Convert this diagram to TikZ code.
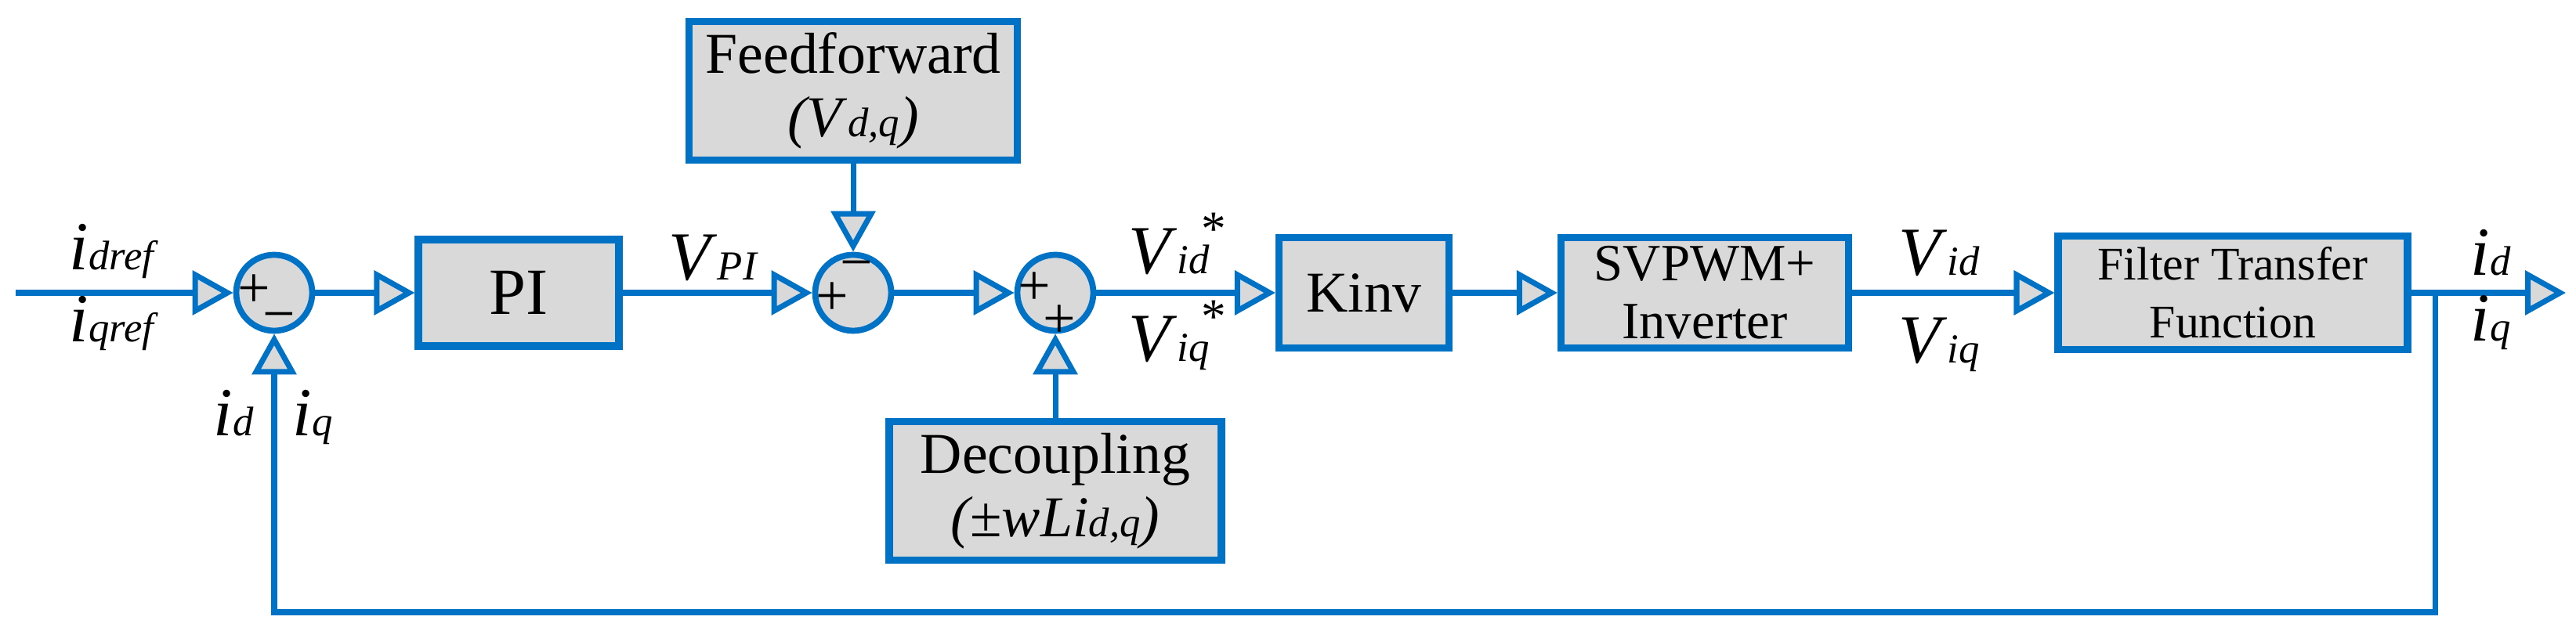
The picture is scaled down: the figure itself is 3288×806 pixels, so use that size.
\documentclass[tikz,border=0pt]{standalone}
\usepackage{fontspec}
\setmainfont{Liberation Serif}
\usetikzlibrary{arrows.meta}
\definecolor{lineblue}{RGB}{0,114,198}
\definecolor{boxgray}{RGB}{217,217,217}
\newcommand\vsig[2]{\textit{#1}{\fontsize{15}{15}\selectfont\textit{#2}}}
\newcommand\vstar{\kern-3pt\raisebox{10.5pt}{\fontsize{18}{18}\selectfont *}}

\tikzset{
  block/.style={draw=lineblue, line width=2.6pt, fill=boxgray, align=center, inner sep=0pt,
    font=\fontsize{21}{23}\selectfont},
  sum/.style={circle, draw=lineblue, line width=2.2pt, fill=boxgray,
    minimum size=0.97cm, inner sep=0pt},
  sig/.style={draw=lineblue, line width=2pt, line join=miter,
    -{Triangle[length=0.52cm, width=0.56cm, fill=boxgray]}},
  lbl/.style={anchor=base west, inner sep=0pt, font=\fontsize{25}{25}\selectfont},
  sgn/.style={inner sep=0pt, font=\fontsize{21}{21}\selectfont}
}

\begin{document}
\begin{tikzpicture}[x=0.1mm, y=-0.1mm]
  \useasboundingbox (0,0) rectangle (3288,806);

  % blocks and summing points
  \node[sum] (S1) at (350,374) {};
  \node[block, minimum width=2.56cm, minimum height=1.36cm, font=\fontsize{24}{24}\selectfont] (PI) at (662,374) {PI};
  \node[sum] (S2) at (1089,374) {};
  \node[block, minimum width=4.19cm, minimum height=1.77cm] (FF) at (1089,116) {Feedforward\\{\itshape(}\vsig{V}{d,q}{\itshape)}};
  \node[sum] (S3) at (1347,374) {};
  \node[block, minimum width=4.24cm, minimum height=1.77cm] (Dec) at (1347,627) {Decoupling\\{\itshape(}±\vsig{wLi}{d,q}{\itshape)}};
  \node[block, minimum width=2.17cm, minimum height=1.41cm] (K) at (1741,374) {Kinv};
  \node[block, minimum width=3.67cm, minimum height=1.41cm, font=\fontsize{19}{21}\selectfont] (SV) at (2176,374) {SVPWM+\\Inverter};
  \node[block, minimum width=4.46cm, minimum height=1.45cm, font=\fontsize{17}{21}\selectfont] (F) at (2850,374) {Filter Transfer\\Function};

  \coordinate (in) at (20,374);
  \coordinate (J) at (3108,374);
  \coordinate (out) at (3275,374);
  \coordinate (fb) at (3108,782);

  % signs
  \node[sgn] (S1a) at (324,372) {+};
  \node[sgn] (S1b) at (356,412) {−};
  \node[sgn] (S2a) at (1062,382) {+};
  \node[sgn] (S2b) at (1093,346) {−};
  \node[sgn] (S3a) at (1320,369) {+};
  \node[sgn] (S3b) at (1352,411) {+};

  % signals
  \draw (in) edge[sig] (S1);
  \draw (S1) edge[sig] (PI);
  \draw (PI) edge[sig] (S2);
  \draw (FF) edge[sig] (S2);
  \draw (S2) edge[sig] (S3);
  \draw (Dec) edge[sig] (S3);
  \draw (S3) edge[sig] (K);
  \draw (K) edge[sig] (SV);
  \draw (SV) edge[sig] (F);
  \draw (F) edge[sig] (out);
  \draw[sig] (J) -- (fb) -| (S1);

  % labels
  \node[lbl] (idref) at (88,345) {\vsig{i}{dref}};
  \node[lbl] (iqref) at (88,437) {\vsig{i}{qref}};
  \node[lbl] (idfb) at (272,557) {\vsig{i}{d}};
  \node[lbl] (iqfb) at (373,557) {\vsig{i}{q}};
  \node[lbl] (VPI) at (853,358) {\vsig{V}{PI}};
  \node[lbl] (Vids) at (1440,350) {\vsig{V}{id}\vstar};
  \node[lbl] (Viqs) at (1440,462) {\vsig{V}{iq}\vstar};
  \node[lbl] (Vid) at (2423,352) {\vsig{V}{id}};
  \node[lbl] (Viq) at (2423,464) {\vsig{V}{iq}};
  \node[lbl] (id) at (3153,352) {\vsig{i}{d}};
  \node[lbl] (iq) at (3153,436) {\vsig{i}{q}};
\end{tikzpicture}
\end{document}
